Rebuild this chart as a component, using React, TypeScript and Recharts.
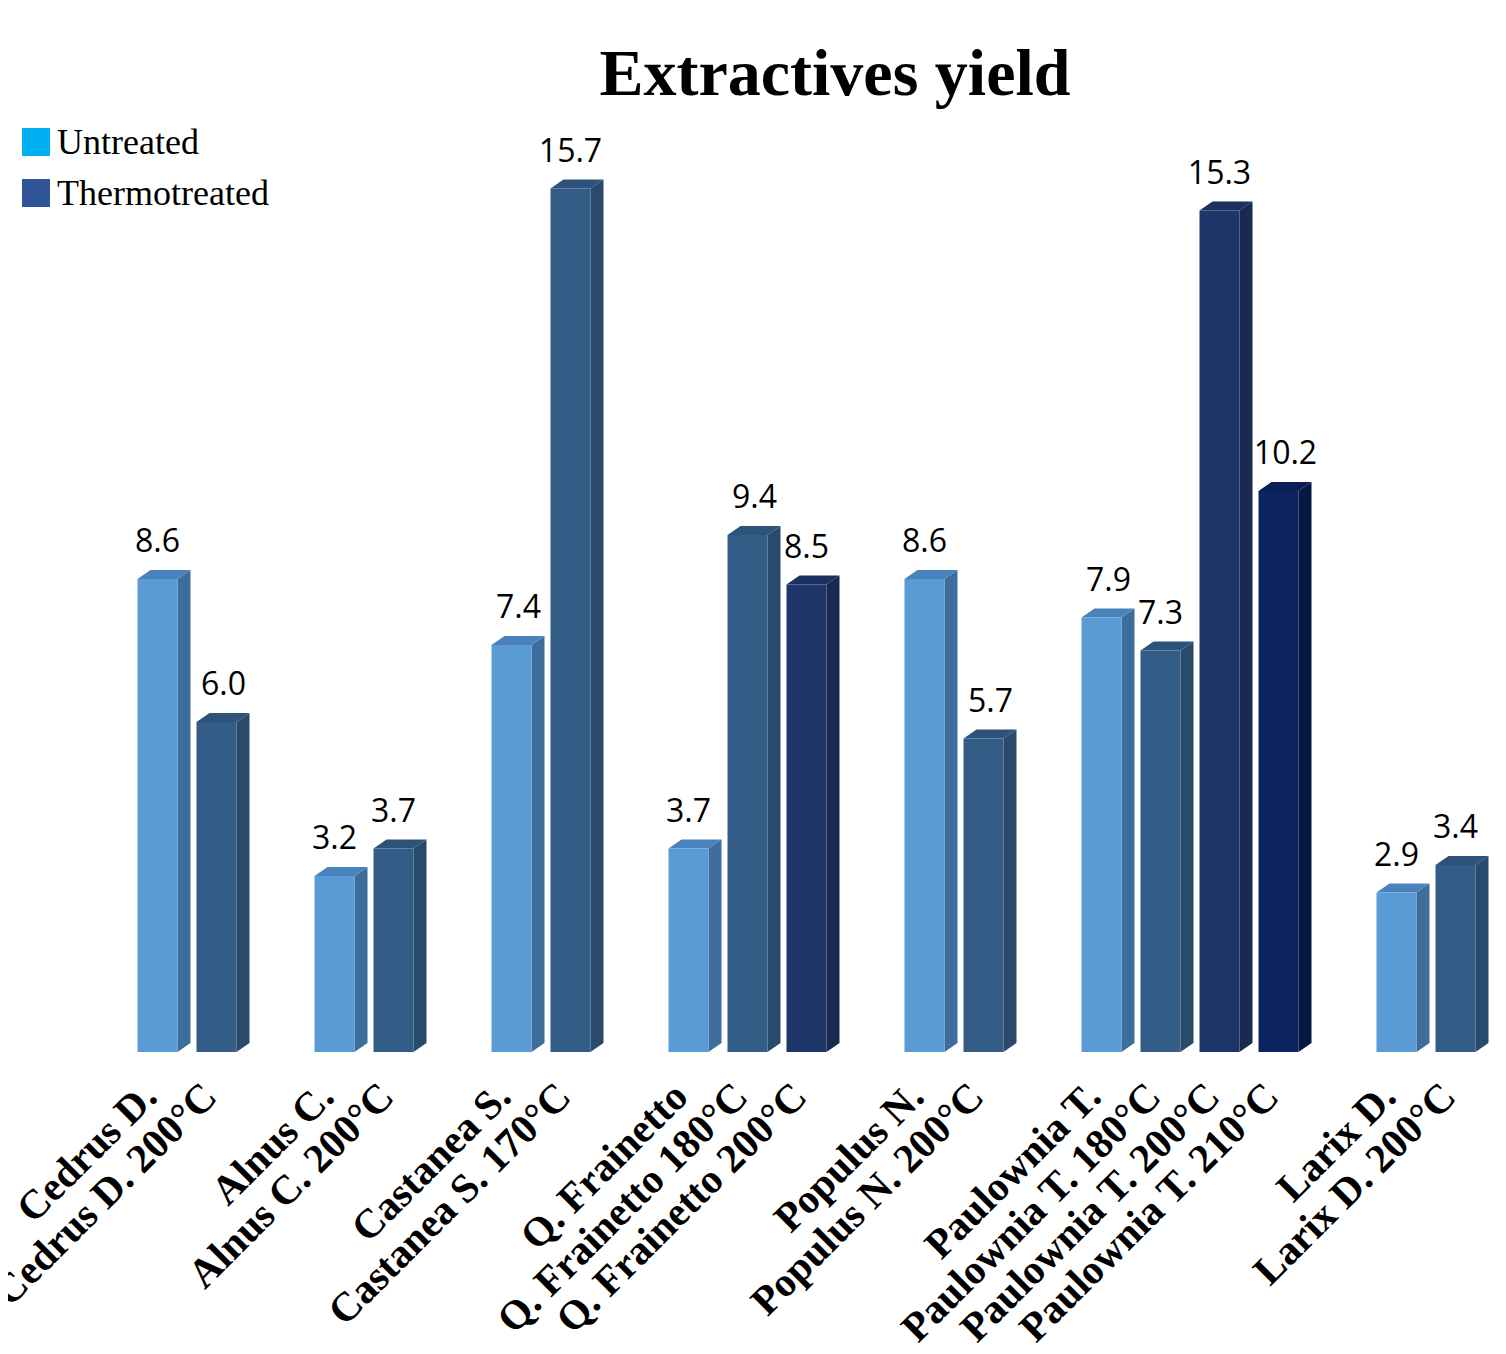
import { BarChart, Bar, XAxis, YAxis, LabelList } from 'recharts';

const species = ['Cedrus D.', 'Alnus C.', 'Castanea S.', 'Q. Frainetto', 'Populus N.', 'Paulownia T.', 'Larix D.'];
const temperatures = [['200°C'], ['200°C'], ['170°C'], ['180°C', '200°C'], ['200°C'], ['180°C', '200°C', '210°C'], ['200°C']];
const untreated = [8.6, 3.2, 7.4, 3.7, 8.6, 7.9, 2.9];
const thermotreated = [[6.0], [3.7], [15.7], [9.4, 8.5], [5.7], [7.3, 15.3, 10.2], [3.4]];

const legendItems = [
  { label: 'Untreated', color: '#00B0F0' },
  { label: 'Thermotreated', color: '#2F5597' },
];

// one shade per position inside a species group (untreated, then each temperature)
const shades = [
  { front: '#5B9BD5', side: '#3D6D9B', top: '#4A82BD' },
  { front: '#335D87', side: '#294A6B', top: '#2D537A' },
  { front: '#1E3569', side: '#182A50', top: '#1B305E' },
  { front: '#0B2360', side: '#061840', top: '#0A1F55' },
];

type Row = { name: string; value: number | null; level: number };

const rows: Row[] = [];
species.forEach((s, i) => {
  if (i > 0) rows.push({ name: '', value: null, level: 0 });
  rows.push({ name: s, value: untreated[i], level: 0 });
  temperatures[i].forEach((t, j) =>
    rows.push({ name: `${s} ${t}`, value: thermotreated[i][j], level: j + 1 })
  );
});

const DX = 13;
const DY = 9;

function Bar3D(props: any) {
  const { x, y, width, height, payload } = props;
  if (payload == null || payload.value == null || !height) return null;
  const c = shades[payload.level];
  const r = x + width;
  const b = y + height;
  return (
    <g>
      <polygon points={`${r},${y} ${r + DX},${y - DY} ${r + DX},${b - DY} ${r},${b}`} fill={c.side} />
      <polygon points={`${x},${y} ${x + DX},${y - DY} ${r + DX},${y - DY} ${r},${y}`} fill={c.top} />
      <rect x={x} y={y} width={width} height={height} fill={c.front} />
    </g>
  );
}

function ValueLabel(props: any) {
  const { x, y, width, value, index } = props;
  if (value == null) return null;
  const shift = rows[index].level > 0 ? 7 : 0;
  return (
    <text
      x={x + width / 2 + shift}
      y={y - 27}
      textAnchor="middle"
      fontFamily="'Open Sans', sans-serif"
      fontSize={32}
      fill="#000"
    >
      {value.toFixed(1)}
    </text>
  );
}

function CategoryTick(props: any) {
  const { x, y, payload } = props;
  const row = rows[payload.index];
  if (!row || !row.name) return null;
  const shift = row.level > 0 ? 3 : 2;
  return (
    <g transform={`translate(${x + shift},${y + 47})`}>
      <text
        transform="rotate(-45)"
        textAnchor="end"
        fontFamily="'Liberation Serif', 'Times New Roman', serif"
        fontWeight="bold"
        fontSize={41}
        fill="#000"
      >
        {row.name}
      </text>
    </g>
  );
}

export default function App() {
  // the chart starts at the page's left edge (body margin pulled back)
  return (
    <div style={{ position: 'relative', width: 1498, height: 1346, marginLeft: -8 }}>
      <div
        style={{
          position: 'absolute',
          left: 0,
          width: 1670,
          top: 32,
          textAlign: 'center',
          fontFamily: "'Liberation Serif', 'Times New Roman', serif",
          fontWeight: 'bold',
          fontSize: 66,
          lineHeight: '66px',
          color: '#000',
          whiteSpace: 'nowrap',
        }}
      >
        Extractives yield
      </div>
      <div
        style={{
          position: 'absolute',
          left: 22,
          top: 108,
          fontFamily: "'Liberation Serif', 'Times New Roman', serif",
          fontSize: 36,
          color: '#000',
        }}
      >
        {legendItems.map((it) => (
          <div key={it.label} style={{ display: 'flex', alignItems: 'center', height: 51 }}>
            <span style={{ width: 28, height: 28, background: it.color, marginRight: 7, display: 'inline-block' }} />
            <span>{it.label}</span>
          </div>
        ))}
      </div>
      <BarChart
        width={1498}
        height={1346}
        data={rows}
        margin={{ top: 164, right: 13.5, left: 127.5, bottom: 0 }}
      >
        <XAxis
          dataKey="name"
          height={302}
          interval={0}
          tickLine={false}
          axisLine={false}
          tickSize={0}
          tickMargin={0}
          tick={<CategoryTick />}
        />
        <YAxis hide domain={[0, 16]} />
        <Bar dataKey="value" barSize={40} shape={<Bar3D />} isAnimationActive={false}>
          <LabelList dataKey="value" content={<ValueLabel />} />
        </Bar>
      </BarChart>
    </div>
  );
}
